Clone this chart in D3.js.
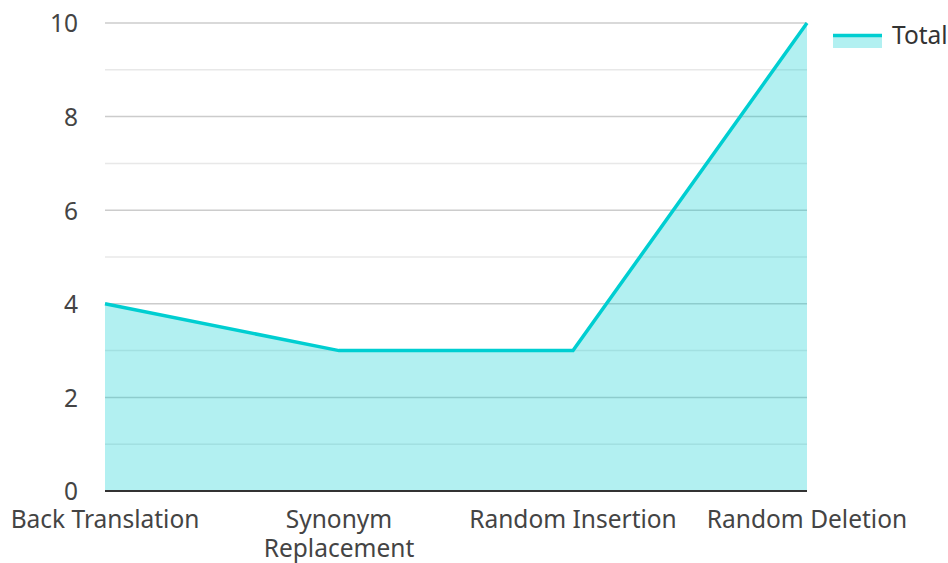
<!DOCTYPE html>
<html><head><meta charset="utf-8">
<script src="https://cdn.jsdelivr.net/npm/d3@7"></script>
<style>body{margin:0;background:#fff;}svg{display:block;font-family:"Noto Sans","Open Sans",sans-serif;}</style>
</head><body><svg id="c" width="948" height="563"></svg>
<script>
const categories = ["Back Translation", "Synonym Replacement", "Random Insertion", "Random Deletion"];
const totals = [4, 3, 3, 10];
const yTicks = [0, 2, 4, 6, 8, 10];
const yMinor = [1, 3, 5, 7, 9];
const seriesName = "Total";

const FS = 24.5;
const svg = d3.select("#c");
const L = 105, R = 807, T = 23, B = 491;
const x = d3.scalePoint().domain(categories).range([L, R]).padding(0);
const y = d3.scaleLinear().domain([0, 10]).range([B, T]);

// grid
svg.append("g").selectAll("line").data(yMinor).join("line")
  .attr("x1", L).attr("x2", R).attr("y1", d => y(d)).attr("y2", d => y(d))
  .attr("stroke", "#e8e8e8").attr("stroke-width", 1.5);
svg.append("g").selectAll("line").data(yTicks.filter(d => d > 0)).join("line")
  .attr("x1", L).attr("x2", R).attr("y1", d => y(d)).attr("y2", d => y(d))
  .attr("stroke", "#cccccc").attr("stroke-width", 1.5);

const data = categories.map((c, i) => ({c, v: totals[i]}));
const area = d3.area().x(d => x(d.c)).y0(y(0)).y1(d => y(d.v));
const line = d3.line().x(d => x(d.c)).y(d => y(d.v));
svg.append("path").datum(data).attr("d", area).attr("fill", "rgba(0,206,209,0.3)");
svg.append("path").datum(data).attr("d", line).attr("fill", "none")
  .attr("stroke", "#00ced1").attr("stroke-width", 3.5).attr("stroke-linejoin", "miter");

// baseline
svg.append("line").attr("x1", L).attr("x2", R).attr("y1", B).attr("y2", B)
  .attr("stroke", "#333").attr("stroke-width", 2);

// y labels
const yAxis = d3.axisLeft(y).tickValues(yTicks).tickSize(0).tickPadding(0).tickFormat(d3.format("d"));
const ya = svg.append("g").attr("transform", `translate(${L - 27},1)`).call(yAxis);
ya.select(".domain").remove();
ya.selectAll("text").attr("font-size", FS).attr("fill", "#444").attr("font-family", '"Noto Sans","Open Sans",sans-serif');

// x labels with wrapping
const maxW = x.step();
const xg = svg.append("g");
categories.forEach(c => {
  const t = xg.append("text").attr("x", x(c)).attr("y", 528).attr("text-anchor", "middle")
    .attr("font-size", FS).attr("fill", "#444");
  const words = c.split(" ");
  let lineWords = [];
  let ts = t.append("tspan").attr("x", x(c)).attr("dy", 0);
  words.forEach(w => {
    lineWords.push(w);
    ts.text(lineWords.join(" "));
    if (ts.node().getComputedTextLength() > maxW && lineWords.length > 1) {
      lineWords.pop();
      ts.text(lineWords.join(" "));
      lineWords = [w];
      ts = t.append("tspan").attr("x", x(c)).attr("dy", 29).text(w);
    }
  });
});

// legend
const lg = svg.append("g");
lg.append("rect").attr("x", 833).attr("y", 36).attr("width", 49).attr("height", 12).attr("fill", "rgba(0,206,209,0.3)");
lg.append("line").attr("x1", 833).attr("x2", 882).attr("y1", 35.5).attr("y2", 35.5).attr("stroke", "#00ced1").attr("stroke-width", 3.5);
lg.append("text").attr("x", 892).attr("y", 44).attr("font-size", FS).attr("fill", "#333").text(seriesName);
</script></body></html>
